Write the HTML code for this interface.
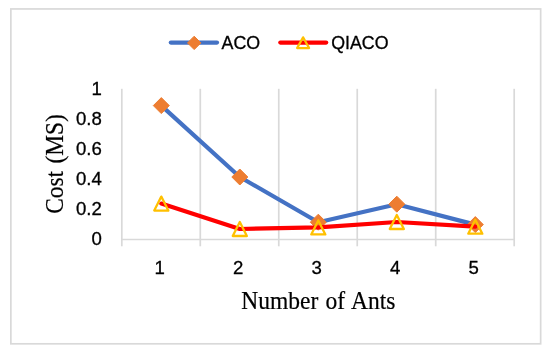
<!DOCTYPE html>
<html lang="en"><head><meta charset="utf-8"><title>Cost vs Number of Ants</title>
<style>
html,body{margin:0;padding:0;background:#fff;}
svg{display:block;}
.s{font-family:"Liberation Sans",sans-serif;font-size:18.6px;fill:#000;stroke:#000;stroke-width:0.3px;}
.t{font-family:"Liberation Serif",serif;font-size:24px;fill:#000;stroke:#000;stroke-width:0.2px;}
</style></head><body>
<svg width="550" height="353" viewBox="0 0 550 353">
<rect x="0" y="0" width="550" height="353" fill="#fff"/>
<rect x="10.85" y="8.95" width="529.8" height="334.85" fill="none" stroke="#d9d9d9" stroke-width="1.7"/>
<g stroke="#d9d9d9" stroke-width="1.7" fill="none"><line x1="121.80" y1="88.8" x2="121.80" y2="246.3"/><line x1="200.28" y1="88.8" x2="200.28" y2="246.3"/><line x1="278.76" y1="88.8" x2="278.76" y2="246.3"/><line x1="357.24" y1="88.8" x2="357.24" y2="246.3"/><line x1="435.72" y1="88.8" x2="435.72" y2="246.3"/><line x1="514.20" y1="88.8" x2="514.20" y2="246.3"/><line x1="121.8" y1="239.5" x2="514.2" y2="239.5"/></g>
<polyline points="161.3,105.6 239.8,177.0 318.3,222.2 396.8,204.2 475.3,224.6" fill="none" stroke="#4472c4" stroke-width="4.2" stroke-linecap="round" stroke-linejoin="round"/>
<path d="M161.30 97.60L169.30 105.60L161.30 113.60L153.30 105.60Z" fill="#ed7d31" stroke="#ed7d31" stroke-width="1" stroke-linejoin="round"/><path d="M239.80 169.00L247.80 177.00L239.80 185.00L231.80 177.00Z" fill="#ed7d31" stroke="#ed7d31" stroke-width="1" stroke-linejoin="round"/><path d="M318.30 214.20L326.30 222.20L318.30 230.20L310.30 222.20Z" fill="#ed7d31" stroke="#ed7d31" stroke-width="1" stroke-linejoin="round"/><path d="M396.80 196.20L404.80 204.20L396.80 212.20L388.80 204.20Z" fill="#ed7d31" stroke="#ed7d31" stroke-width="1" stroke-linejoin="round"/><path d="M475.30 216.60L483.30 224.60L475.30 232.60L467.30 224.60Z" fill="#ed7d31" stroke="#ed7d31" stroke-width="1" stroke-linejoin="round"/>
<polyline points="161.3,203.6 239.8,229.0 318.3,227.4 396.8,222.0 475.3,226.7" fill="none" stroke="#ff0000" stroke-width="4.2" stroke-linecap="round" stroke-linejoin="round"/>
<path d="M161.30 196.60L168.35 210.60L154.25 210.60Z" fill="none" stroke="#ffc000" stroke-width="2.3" stroke-linejoin="round"/><path d="M239.80 222.00L246.85 236.00L232.75 236.00Z" fill="none" stroke="#ffc000" stroke-width="2.3" stroke-linejoin="round"/><path d="M318.30 220.40L325.35 234.40L311.25 234.40Z" fill="none" stroke="#ffc000" stroke-width="2.3" stroke-linejoin="round"/><path d="M396.80 215.00L403.85 229.00L389.75 229.00Z" fill="none" stroke="#ffc000" stroke-width="2.3" stroke-linejoin="round"/><path d="M475.30 219.70L482.35 233.70L468.25 233.70Z" fill="none" stroke="#ffc000" stroke-width="2.3" stroke-linejoin="round"/>
<line x1="170.8" y1="42.6" x2="217" y2="42.6" stroke="#4472c4" stroke-width="4.2" stroke-linecap="round"/>
<path d="M194.20 36.20L200.90 42.90L194.20 49.60L187.50 42.90Z" fill="#ed7d31" stroke="#ed7d31" stroke-width="1" stroke-linejoin="round"/>
<line x1="280.3" y1="42.6" x2="326.2" y2="42.6" stroke="#ff0000" stroke-width="4.2" stroke-linecap="round"/>
<path d="M303.10 37.30L309.10 48.10L297.10 48.10Z" fill="none" stroke="#ffc000" stroke-width="2.2" stroke-linejoin="round"/>
<g class="s"><text x="101.9" y="245" text-anchor="end">0</text><text x="101.9" y="215" text-anchor="end">0.2</text><text x="101.9" y="185" text-anchor="end">0.4</text><text x="101.9" y="155" text-anchor="end">0.6</text><text x="101.9" y="125" text-anchor="end">0.8</text><text x="101.9" y="95" text-anchor="end">1</text><text x="159.7" y="274" text-anchor="middle">1</text><text x="238.2" y="274" text-anchor="middle">2</text><text x="316.7" y="274" text-anchor="middle">3</text><text x="395.2" y="274" text-anchor="middle">4</text><text x="473.7" y="274" text-anchor="middle">5</text>
<text x="221.6" y="49" style="font-size:17.8px">ACO</text>
<text x="331.2" y="49" style="font-size:17.8px">QIACO</text>
</g>
<text class="t" transform="translate(318.3 308.8) scale(0.98 1.05)" style="word-spacing:1.3px" text-anchor="middle">Number of Ants</text>
<text class="t" transform="translate(63.3 164) rotate(-90) scale(0.975 1.06)" style="word-spacing:1.5px" text-anchor="middle">Cost (MS)</text>
</svg>
</body></html>
